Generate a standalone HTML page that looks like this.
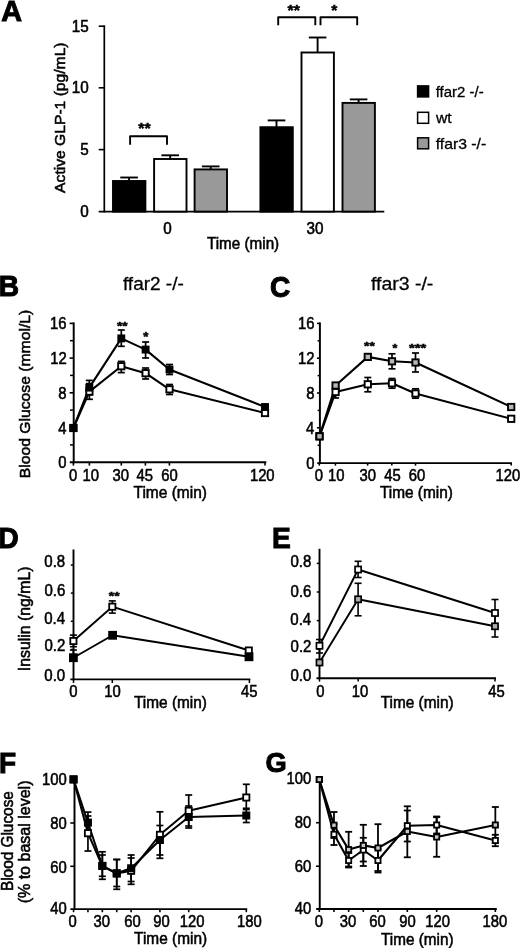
<!DOCTYPE html>
<html><head><meta charset="utf-8"><title>Figure</title>
<style>
html,body{margin:0;padding:0;background:#fff;}
body{width:520px;height:948px;overflow:hidden;}
svg{display:block;}
svg text{font-family:"Liberation Sans",Arial,Helvetica,sans-serif;}
</style></head><body>
<svg width="520" height="948" viewBox="0 0 520 948">
<rect x="0" y="0" width="520" height="948" fill="#fff"/>
<text transform="translate(1.28,21.10) scale(0.9696,1)" font-size="29.71" font-weight="bold" fill="#000" stroke="#000" stroke-width="1.0">A</text>
<line x1="104.30" y1="25.30" x2="104.30" y2="212.40" stroke="#000" stroke-width="1.7" stroke-linecap="butt"/>
<line x1="98.70" y1="211.60" x2="384.30" y2="211.60" stroke="#000" stroke-width="1.7" stroke-linecap="butt"/>
<line x1="98.70" y1="26.20" x2="104.30" y2="26.20" stroke="#000" stroke-width="1.6" stroke-linecap="butt"/>
<line x1="98.70" y1="87.80" x2="104.30" y2="87.80" stroke="#000" stroke-width="1.6" stroke-linecap="butt"/>
<line x1="98.70" y1="149.60" x2="104.30" y2="149.60" stroke="#000" stroke-width="1.6" stroke-linecap="butt"/>
<text transform="translate(71.79,31.61) scale(0.9600,1)" font-size="15.90" fill="#000" stroke="#000" stroke-width="0.55">15</text>
<text transform="translate(71.79,93.49) scale(0.9600,1)" font-size="15.90" fill="#000" stroke="#000" stroke-width="0.55">10</text>
<text transform="translate(80.26,154.71) scale(0.9600,1)" font-size="15.90" fill="#000" stroke="#000" stroke-width="0.55">5</text>
<text transform="translate(80.26,217.39) scale(0.9600,1)" font-size="15.90" fill="#000" stroke="#000" stroke-width="0.55">0</text>
<text transform="translate(64.80,192.88) rotate(-90) scale(1.0171,1)" font-size="15.40" fill="#000" stroke="#000" stroke-width="0.55">Active GLP-1 (pg/mL)</text>
<line x1="129.10" y1="181.00" x2="129.10" y2="177.50" stroke="#000" stroke-width="1.9" stroke-linecap="butt"/>
<line x1="120.30" y1="177.50" x2="137.90" y2="177.50" stroke="#000" stroke-width="1.9" stroke-linecap="butt"/>
<rect x="113.00" y="181.00" width="32.40" height="30.60" fill="#000" stroke="#000" stroke-width="1.9"/>
<line x1="170.20" y1="159.00" x2="170.20" y2="155.30" stroke="#000" stroke-width="1.9" stroke-linecap="butt"/>
<line x1="161.40" y1="155.30" x2="179.00" y2="155.30" stroke="#000" stroke-width="1.9" stroke-linecap="butt"/>
<rect x="154.10" y="159.00" width="32.40" height="52.60" fill="#fff" stroke="#000" stroke-width="1.9"/>
<line x1="210.70" y1="169.40" x2="210.70" y2="166.40" stroke="#000" stroke-width="1.9" stroke-linecap="butt"/>
<line x1="201.90" y1="166.40" x2="219.50" y2="166.40" stroke="#000" stroke-width="1.9" stroke-linecap="butt"/>
<rect x="194.60" y="169.40" width="32.40" height="42.20" fill="#999" stroke="#000" stroke-width="1.9"/>
<line x1="276.50" y1="127.20" x2="276.50" y2="120.40" stroke="#000" stroke-width="1.9" stroke-linecap="butt"/>
<line x1="267.70" y1="120.40" x2="285.30" y2="120.40" stroke="#000" stroke-width="1.9" stroke-linecap="butt"/>
<rect x="260.40" y="127.20" width="32.40" height="84.40" fill="#000" stroke="#000" stroke-width="1.9"/>
<line x1="317.60" y1="52.50" x2="317.60" y2="37.50" stroke="#000" stroke-width="1.9" stroke-linecap="butt"/>
<line x1="308.80" y1="37.50" x2="326.40" y2="37.50" stroke="#000" stroke-width="1.9" stroke-linecap="butt"/>
<rect x="301.50" y="52.50" width="32.40" height="159.10" fill="#fff" stroke="#000" stroke-width="1.9"/>
<line x1="358.60" y1="102.90" x2="358.60" y2="99.40" stroke="#000" stroke-width="1.9" stroke-linecap="butt"/>
<line x1="349.80" y1="99.40" x2="367.40" y2="99.40" stroke="#000" stroke-width="1.9" stroke-linecap="butt"/>
<rect x="342.50" y="102.90" width="32.40" height="108.70" fill="#999" stroke="#000" stroke-width="1.9"/>
<polyline fill="none" stroke="#000" stroke-width="1.9" stroke-linejoin="round" points="130.10,144.80 130.10,136.20 167.00,136.20 167.00,144.80"/>
<polyline fill="none" stroke="#000" stroke-width="1.9" stroke-linejoin="round" points="278.20,25.20 278.20,17.30 315.30,17.30 315.30,25.20"/>
<polyline fill="none" stroke="#000" stroke-width="1.9" stroke-linejoin="round" points="320.50,25.20 320.50,17.30 357.20,17.30 357.20,25.20"/>
<text transform="translate(138.17,133.08) scale(1.0369,1)" font-size="15.41" font-weight="bold" fill="#000" stroke="#000" stroke-width="0.5">**</text>
<text transform="translate(287.47,15.08) scale(1.0369,1)" font-size="15.41" font-weight="bold" fill="#000" stroke="#000" stroke-width="0.5">**</text>
<text transform="translate(331.27,15.08) scale(1.0078,1)" font-size="15.41" font-weight="bold" fill="#000" stroke="#000" stroke-width="0.5">*</text>
<text transform="translate(163.26,233.59) scale(0.9600,1)" font-size="15.90" fill="#000" stroke="#000" stroke-width="0.55">0</text>
<text transform="translate(306.48,233.59) scale(0.9600,1)" font-size="15.90" fill="#000" stroke="#000" stroke-width="0.55">30</text>
<text transform="translate(207.00,249.40) scale(0.9402,1)" font-size="16.20" fill="#000" stroke="#000" stroke-width="0.55">Time (min)</text>
<rect x="417.60" y="85.90" width="11.00" height="11.00" fill="#000" stroke="#000" stroke-width="1.5"/>
<rect x="417.60" y="112.30" width="11.00" height="11.00" fill="#fff" stroke="#000" stroke-width="1.5"/>
<rect x="417.60" y="137.80" width="11.00" height="11.00" fill="#999" stroke="#000" stroke-width="1.5"/>
<text transform="translate(435.68,97.20) scale(1.0119,1)" font-size="14.80" fill="#000" stroke="#000" stroke-width="0.3">ffar2 -/-</text>
<text transform="translate(435.90,123.20) scale(1.0647,1)" font-size="14.80" fill="#000" stroke="#000" stroke-width="0.3">wt</text>
<text transform="translate(435.66,149.00) scale(1.0656,1)" font-size="14.80" fill="#000" stroke="#000" stroke-width="0.3">ffar3 -/-</text>
<text transform="translate(-1.23,295.60) scale(0.9584,1)" font-size="29.42" font-weight="bold" fill="#000" stroke="#000" stroke-width="1.0">B</text>
<text transform="translate(122.91,289.60) scale(1.0223,1)" font-size="18.60" fill="#000" stroke="#000" stroke-width="0.3">ffar2 -/-</text>
<line x1="73.70" y1="322.40" x2="73.70" y2="463.20" stroke="#000" stroke-width="1.95" stroke-linecap="butt"/>
<line x1="69.80" y1="462.30" x2="266.30" y2="462.30" stroke="#000" stroke-width="1.95" stroke-linecap="butt"/>
<line x1="69.60" y1="323.40" x2="73.70" y2="323.40" stroke="#000" stroke-width="1.6" stroke-linecap="butt"/>
<line x1="69.60" y1="358.10" x2="73.70" y2="358.10" stroke="#000" stroke-width="1.6" stroke-linecap="butt"/>
<line x1="69.60" y1="392.80" x2="73.70" y2="392.80" stroke="#000" stroke-width="1.6" stroke-linecap="butt"/>
<line x1="69.60" y1="427.50" x2="73.70" y2="427.50" stroke="#000" stroke-width="1.6" stroke-linecap="butt"/>
<line x1="70.00" y1="340.70" x2="73.70" y2="340.70" stroke="#000" stroke-width="1.5" stroke-linecap="butt"/>
<line x1="70.00" y1="375.40" x2="73.70" y2="375.40" stroke="#000" stroke-width="1.5" stroke-linecap="butt"/>
<line x1="70.00" y1="410.10" x2="73.70" y2="410.10" stroke="#000" stroke-width="1.5" stroke-linecap="butt"/>
<line x1="70.00" y1="444.90" x2="73.70" y2="444.90" stroke="#000" stroke-width="1.5" stroke-linecap="butt"/>
<line x1="73.40" y1="462.30" x2="73.40" y2="465.60" stroke="#000" stroke-width="1.6" stroke-linecap="butt"/>
<line x1="89.40" y1="462.30" x2="89.40" y2="465.60" stroke="#000" stroke-width="1.6" stroke-linecap="butt"/>
<line x1="121.30" y1="462.30" x2="121.30" y2="465.60" stroke="#000" stroke-width="1.6" stroke-linecap="butt"/>
<line x1="145.40" y1="462.30" x2="145.40" y2="465.60" stroke="#000" stroke-width="1.6" stroke-linecap="butt"/>
<line x1="169.40" y1="462.30" x2="169.40" y2="465.60" stroke="#000" stroke-width="1.6" stroke-linecap="butt"/>
<line x1="265.00" y1="462.30" x2="265.00" y2="465.60" stroke="#000" stroke-width="1.6" stroke-linecap="butt"/>
<text transform="translate(50.12,328.86) scale(0.9050,1)" font-size="16.40" fill="#000" stroke="#000" stroke-width="0.55">16</text>
<text transform="translate(50.19,364.04) scale(0.9050,1)" font-size="16.40" fill="#000" stroke="#000" stroke-width="0.55">12</text>
<text transform="translate(58.28,398.86) scale(0.9050,1)" font-size="16.40" fill="#000" stroke="#000" stroke-width="0.55">8</text>
<text transform="translate(58.13,433.66) scale(0.9050,1)" font-size="16.40" fill="#000" stroke="#000" stroke-width="0.55">4</text>
<text transform="translate(58.28,468.36) scale(0.9050,1)" font-size="16.40" fill="#000" stroke="#000" stroke-width="0.55">0</text>
<text transform="translate(69.08,481.26) scale(0.9050,1)" font-size="16.40" fill="#000" stroke="#000" stroke-width="0.55">0</text>
<text transform="translate(82.50,481.26) scale(0.9050,1)" font-size="16.40" fill="#000" stroke="#000" stroke-width="0.55">10</text>
<text transform="translate(112.61,481.26) scale(0.9050,1)" font-size="16.40" fill="#000" stroke="#000" stroke-width="0.55">30</text>
<text transform="translate(136.47,481.18) scale(0.9050,1)" font-size="16.40" fill="#000" stroke="#000" stroke-width="0.55">45</text>
<text transform="translate(161.29,481.26) scale(0.9050,1)" font-size="16.40" fill="#000" stroke="#000" stroke-width="0.55">60</text>
<text transform="translate(249.88,481.26) scale(0.9050,1)" font-size="16.40" fill="#000" stroke="#000" stroke-width="0.55">120</text>
<text transform="translate(133.49,497.50) scale(0.9343,1)" font-size="16.60" fill="#000" stroke="#000" stroke-width="0.55">Time (min)</text>
<text transform="translate(29.80,478.26) rotate(-90) scale(1.0214,1)" font-size="15.40" fill="#000" stroke="#000" stroke-width="0.55">Blood Glucose (mmol/L)</text>
<line x1="89.40" y1="383.60" x2="89.40" y2="399.30" stroke="#000" stroke-width="1.7" stroke-linecap="butt"/>
<line x1="85.90" y1="383.60" x2="92.90" y2="383.60" stroke="#000" stroke-width="1.7" stroke-linecap="butt"/>
<line x1="85.90" y1="399.30" x2="92.90" y2="399.30" stroke="#000" stroke-width="1.7" stroke-linecap="butt"/>
<line x1="121.30" y1="361.40" x2="121.30" y2="372.60" stroke="#000" stroke-width="1.7" stroke-linecap="butt"/>
<line x1="117.80" y1="361.40" x2="124.80" y2="361.40" stroke="#000" stroke-width="1.7" stroke-linecap="butt"/>
<line x1="117.80" y1="372.60" x2="124.80" y2="372.60" stroke="#000" stroke-width="1.7" stroke-linecap="butt"/>
<line x1="145.60" y1="368.00" x2="145.60" y2="379.00" stroke="#000" stroke-width="1.7" stroke-linecap="butt"/>
<line x1="142.10" y1="368.00" x2="149.10" y2="368.00" stroke="#000" stroke-width="1.7" stroke-linecap="butt"/>
<line x1="142.10" y1="379.00" x2="149.10" y2="379.00" stroke="#000" stroke-width="1.7" stroke-linecap="butt"/>
<line x1="169.50" y1="384.50" x2="169.50" y2="394.50" stroke="#000" stroke-width="1.7" stroke-linecap="butt"/>
<line x1="166.00" y1="384.50" x2="173.00" y2="384.50" stroke="#000" stroke-width="1.7" stroke-linecap="butt"/>
<line x1="166.00" y1="394.50" x2="173.00" y2="394.50" stroke="#000" stroke-width="1.7" stroke-linecap="butt"/>
<line x1="89.30" y1="380.40" x2="89.30" y2="394.70" stroke="#000" stroke-width="1.7" stroke-linecap="butt"/>
<line x1="85.80" y1="380.40" x2="92.80" y2="380.40" stroke="#000" stroke-width="1.7" stroke-linecap="butt"/>
<line x1="85.80" y1="394.70" x2="92.80" y2="394.70" stroke="#000" stroke-width="1.7" stroke-linecap="butt"/>
<line x1="121.30" y1="330.00" x2="121.30" y2="346.30" stroke="#000" stroke-width="1.7" stroke-linecap="butt"/>
<line x1="117.80" y1="330.00" x2="124.80" y2="330.00" stroke="#000" stroke-width="1.7" stroke-linecap="butt"/>
<line x1="117.80" y1="346.30" x2="124.80" y2="346.30" stroke="#000" stroke-width="1.7" stroke-linecap="butt"/>
<line x1="145.60" y1="342.00" x2="145.60" y2="358.00" stroke="#000" stroke-width="1.7" stroke-linecap="butt"/>
<line x1="142.10" y1="342.00" x2="149.10" y2="342.00" stroke="#000" stroke-width="1.7" stroke-linecap="butt"/>
<line x1="142.10" y1="358.00" x2="149.10" y2="358.00" stroke="#000" stroke-width="1.7" stroke-linecap="butt"/>
<line x1="169.50" y1="364.50" x2="169.50" y2="374.50" stroke="#000" stroke-width="1.7" stroke-linecap="butt"/>
<line x1="166.00" y1="364.50" x2="173.00" y2="364.50" stroke="#000" stroke-width="1.7" stroke-linecap="butt"/>
<line x1="166.00" y1="374.50" x2="173.00" y2="374.50" stroke="#000" stroke-width="1.7" stroke-linecap="butt"/>
<polyline fill="none" stroke="#000" stroke-width="2.1" stroke-linejoin="round" points="73.40,428.00 89.40,391.60 121.30,366.20 145.60,373.20 169.50,389.30 265.00,413.00"/>
<polyline fill="none" stroke="#000" stroke-width="2.1" stroke-linejoin="round" points="73.40,428.00 89.30,387.60 121.30,338.40 145.60,349.60 169.50,369.50 265.00,407.00"/>
<rect x="70.25" y="424.85" width="6.30" height="6.30" fill="#fff" stroke="#000" stroke-width="1.9"/>
<rect x="86.25" y="388.45" width="6.30" height="6.30" fill="#fff" stroke="#000" stroke-width="1.9"/>
<rect x="118.15" y="363.05" width="6.30" height="6.30" fill="#fff" stroke="#000" stroke-width="1.9"/>
<rect x="142.45" y="370.05" width="6.30" height="6.30" fill="#fff" stroke="#000" stroke-width="1.9"/>
<rect x="166.35" y="386.15" width="6.30" height="6.30" fill="#fff" stroke="#000" stroke-width="1.9"/>
<rect x="261.85" y="409.85" width="6.30" height="6.30" fill="#fff" stroke="#000" stroke-width="1.9"/>
<rect x="69.45" y="424.05" width="7.90" height="7.90" fill="#000"/>
<rect x="85.35" y="383.65" width="7.90" height="7.90" fill="#000"/>
<rect x="117.35" y="334.45" width="7.90" height="7.90" fill="#000"/>
<rect x="141.65" y="345.65" width="7.90" height="7.90" fill="#000"/>
<rect x="165.55" y="365.55" width="7.90" height="7.90" fill="#000"/>
<rect x="261.05" y="403.05" width="7.90" height="7.90" fill="#000"/>
<text transform="translate(117.03,329.97) scale(1.1734,1)" font-size="11.62" font-weight="bold" fill="#000" stroke="#000" stroke-width="0.5">**</text>
<text transform="translate(143.28,340.71) scale(1.1065,1)" font-size="11.89" font-weight="bold" fill="#000" stroke="#000" stroke-width="0.5">*</text>
<text transform="translate(270.08,296.80) scale(0.9234,1)" font-size="30.42" font-weight="bold" fill="#000" stroke="#000" stroke-width="1.0">C</text>
<text transform="translate(370.91,289.60) scale(1.0479,1)" font-size="18.60" fill="#000" stroke="#000" stroke-width="0.3">ffar3 -/-</text>
<line x1="319.90" y1="322.40" x2="319.90" y2="464.00" stroke="#000" stroke-width="1.95" stroke-linecap="butt"/>
<line x1="317.20" y1="463.10" x2="512.00" y2="463.10" stroke="#000" stroke-width="1.95" stroke-linecap="butt"/>
<line x1="317.00" y1="323.40" x2="319.90" y2="323.40" stroke="#000" stroke-width="1.6" stroke-linecap="butt"/>
<line x1="317.00" y1="358.20" x2="319.90" y2="358.20" stroke="#000" stroke-width="1.6" stroke-linecap="butt"/>
<line x1="317.00" y1="393.00" x2="319.90" y2="393.00" stroke="#000" stroke-width="1.6" stroke-linecap="butt"/>
<line x1="317.00" y1="427.80" x2="319.90" y2="427.80" stroke="#000" stroke-width="1.6" stroke-linecap="butt"/>
<line x1="317.60" y1="340.80" x2="319.90" y2="340.80" stroke="#000" stroke-width="1.5" stroke-linecap="butt"/>
<line x1="317.60" y1="375.60" x2="319.90" y2="375.60" stroke="#000" stroke-width="1.5" stroke-linecap="butt"/>
<line x1="317.60" y1="410.40" x2="319.90" y2="410.40" stroke="#000" stroke-width="1.5" stroke-linecap="butt"/>
<line x1="317.60" y1="445.30" x2="319.90" y2="445.30" stroke="#000" stroke-width="1.5" stroke-linecap="butt"/>
<line x1="319.30" y1="463.10" x2="319.30" y2="465.60" stroke="#000" stroke-width="1.6" stroke-linecap="butt"/>
<line x1="335.40" y1="463.10" x2="335.40" y2="465.60" stroke="#000" stroke-width="1.6" stroke-linecap="butt"/>
<line x1="367.60" y1="463.10" x2="367.60" y2="465.60" stroke="#000" stroke-width="1.6" stroke-linecap="butt"/>
<line x1="391.80" y1="463.10" x2="391.80" y2="465.60" stroke="#000" stroke-width="1.6" stroke-linecap="butt"/>
<line x1="415.50" y1="463.10" x2="415.50" y2="465.60" stroke="#000" stroke-width="1.6" stroke-linecap="butt"/>
<line x1="511.20" y1="463.10" x2="511.20" y2="465.60" stroke="#000" stroke-width="1.6" stroke-linecap="butt"/>
<text transform="translate(298.02,328.86) scale(0.9050,1)" font-size="16.40" fill="#000" stroke="#000" stroke-width="0.55">16</text>
<text transform="translate(298.09,364.04) scale(0.9050,1)" font-size="16.40" fill="#000" stroke="#000" stroke-width="0.55">12</text>
<text transform="translate(306.18,398.96) scale(0.9050,1)" font-size="16.40" fill="#000" stroke="#000" stroke-width="0.55">8</text>
<text transform="translate(306.03,434.26) scale(0.9050,1)" font-size="16.40" fill="#000" stroke="#000" stroke-width="0.55">4</text>
<text transform="translate(306.18,468.96) scale(0.9050,1)" font-size="16.40" fill="#000" stroke="#000" stroke-width="0.55">0</text>
<text transform="translate(314.73,480.96) scale(0.9050,1)" font-size="16.40" fill="#000" stroke="#000" stroke-width="0.55">0</text>
<text transform="translate(327.90,480.96) scale(0.9050,1)" font-size="16.40" fill="#000" stroke="#000" stroke-width="0.55">10</text>
<text transform="translate(359.56,480.96) scale(0.9050,1)" font-size="16.40" fill="#000" stroke="#000" stroke-width="0.55">30</text>
<text transform="translate(384.37,480.88) scale(0.9050,1)" font-size="16.40" fill="#000" stroke="#000" stroke-width="0.55">45</text>
<text transform="translate(408.79,480.96) scale(0.9050,1)" font-size="16.40" fill="#000" stroke="#000" stroke-width="0.55">60</text>
<text transform="translate(495.58,480.96) scale(0.9050,1)" font-size="16.40" fill="#000" stroke="#000" stroke-width="0.55">120</text>
<text transform="translate(379.89,497.50) scale(0.9292,1)" font-size="16.60" fill="#000" stroke="#000" stroke-width="0.55">Time (min)</text>
<line x1="335.60" y1="386.50" x2="335.60" y2="398.00" stroke="#000" stroke-width="1.7" stroke-linecap="butt"/>
<line x1="332.10" y1="386.50" x2="339.10" y2="386.50" stroke="#000" stroke-width="1.7" stroke-linecap="butt"/>
<line x1="332.10" y1="398.00" x2="339.10" y2="398.00" stroke="#000" stroke-width="1.7" stroke-linecap="butt"/>
<line x1="367.80" y1="377.50" x2="367.80" y2="391.80" stroke="#000" stroke-width="1.7" stroke-linecap="butt"/>
<line x1="364.30" y1="377.50" x2="371.30" y2="377.50" stroke="#000" stroke-width="1.7" stroke-linecap="butt"/>
<line x1="364.30" y1="391.80" x2="371.30" y2="391.80" stroke="#000" stroke-width="1.7" stroke-linecap="butt"/>
<line x1="392.00" y1="378.50" x2="392.00" y2="388.20" stroke="#000" stroke-width="1.7" stroke-linecap="butt"/>
<line x1="388.50" y1="378.50" x2="395.50" y2="378.50" stroke="#000" stroke-width="1.7" stroke-linecap="butt"/>
<line x1="388.50" y1="388.20" x2="395.50" y2="388.20" stroke="#000" stroke-width="1.7" stroke-linecap="butt"/>
<line x1="415.50" y1="388.80" x2="415.50" y2="398.20" stroke="#000" stroke-width="1.7" stroke-linecap="butt"/>
<line x1="412.00" y1="388.80" x2="419.00" y2="388.80" stroke="#000" stroke-width="1.7" stroke-linecap="butt"/>
<line x1="412.00" y1="398.20" x2="419.00" y2="398.20" stroke="#000" stroke-width="1.7" stroke-linecap="butt"/>
<line x1="392.00" y1="353.80" x2="392.00" y2="368.80" stroke="#000" stroke-width="1.7" stroke-linecap="butt"/>
<line x1="388.50" y1="353.80" x2="395.50" y2="353.80" stroke="#000" stroke-width="1.7" stroke-linecap="butt"/>
<line x1="388.50" y1="368.80" x2="395.50" y2="368.80" stroke="#000" stroke-width="1.7" stroke-linecap="butt"/>
<line x1="415.50" y1="353.00" x2="415.50" y2="372.00" stroke="#000" stroke-width="1.7" stroke-linecap="butt"/>
<line x1="412.00" y1="353.00" x2="419.00" y2="353.00" stroke="#000" stroke-width="1.7" stroke-linecap="butt"/>
<line x1="412.00" y1="372.00" x2="419.00" y2="372.00" stroke="#000" stroke-width="1.7" stroke-linecap="butt"/>
<polyline fill="none" stroke="#000" stroke-width="2.1" stroke-linejoin="round" points="319.50,436.30 335.60,392.00 367.80,384.30 392.00,383.30 415.50,393.50 511.20,418.80"/>
<polyline fill="none" stroke="#000" stroke-width="2.1" stroke-linejoin="round" points="319.50,436.30 335.60,385.50 367.80,356.90 392.00,361.30 415.50,362.50 511.20,407.00"/>
<rect x="316.35" y="433.15" width="6.30" height="6.30" fill="#fff" stroke="#000" stroke-width="1.9"/>
<rect x="332.45" y="388.85" width="6.30" height="6.30" fill="#fff" stroke="#000" stroke-width="1.9"/>
<rect x="364.65" y="381.15" width="6.30" height="6.30" fill="#fff" stroke="#000" stroke-width="1.9"/>
<rect x="388.85" y="380.15" width="6.30" height="6.30" fill="#fff" stroke="#000" stroke-width="1.9"/>
<rect x="412.35" y="390.35" width="6.30" height="6.30" fill="#fff" stroke="#000" stroke-width="1.9"/>
<rect x="508.05" y="415.65" width="6.30" height="6.30" fill="#fff" stroke="#000" stroke-width="1.9"/>
<rect x="316.35" y="433.15" width="6.30" height="6.30" fill="#b8b8b8" stroke="#000" stroke-width="1.9"/>
<rect x="332.45" y="382.35" width="6.30" height="6.30" fill="#b8b8b8" stroke="#000" stroke-width="1.9"/>
<rect x="364.65" y="353.75" width="6.30" height="6.30" fill="#b8b8b8" stroke="#000" stroke-width="1.9"/>
<rect x="388.85" y="358.15" width="6.30" height="6.30" fill="#b8b8b8" stroke="#000" stroke-width="1.9"/>
<rect x="412.35" y="359.35" width="6.30" height="6.30" fill="#b8b8b8" stroke="#000" stroke-width="1.9"/>
<rect x="508.05" y="403.85" width="6.30" height="6.30" fill="#b8b8b8" stroke="#000" stroke-width="1.9"/>
<text transform="translate(364.03,349.93) scale(1.2127,1)" font-size="11.35" font-weight="bold" fill="#000" stroke="#000" stroke-width="0.5">**</text>
<text transform="translate(392.49,351.53) scale(1.0896,1)" font-size="11.35" font-weight="bold" fill="#000" stroke="#000" stroke-width="0.5">*</text>
<text transform="translate(409.03,351.93) scale(1.3062,1)" font-size="11.35" font-weight="bold" fill="#000" stroke="#000" stroke-width="0.5">***</text>
<text transform="translate(-1.84,547.70) scale(0.9477,1)" font-size="29.86" font-weight="bold" fill="#000" stroke="#000" stroke-width="1.0">D</text>
<line x1="73.50" y1="549.50" x2="73.50" y2="680.30" stroke="#000" stroke-width="1.9" stroke-linecap="butt"/>
<line x1="70.30" y1="679.40" x2="250.30" y2="679.40" stroke="#000" stroke-width="1.9" stroke-linecap="butt"/>
<line x1="70.80" y1="565.00" x2="73.50" y2="565.00" stroke="#000" stroke-width="1.5" stroke-linecap="butt"/>
<line x1="70.80" y1="593.10" x2="73.50" y2="593.10" stroke="#000" stroke-width="1.5" stroke-linecap="butt"/>
<line x1="70.80" y1="621.30" x2="73.50" y2="621.30" stroke="#000" stroke-width="1.5" stroke-linecap="butt"/>
<line x1="70.80" y1="649.50" x2="73.50" y2="649.50" stroke="#000" stroke-width="1.5" stroke-linecap="butt"/>
<line x1="73.50" y1="679.40" x2="73.50" y2="683.00" stroke="#000" stroke-width="1.5" stroke-linecap="butt"/>
<line x1="112.30" y1="679.40" x2="112.30" y2="683.00" stroke="#000" stroke-width="1.5" stroke-linecap="butt"/>
<line x1="249.40" y1="679.40" x2="249.40" y2="683.00" stroke="#000" stroke-width="1.5" stroke-linecap="butt"/>
<text transform="translate(44.37,567.46) scale(0.9150,1)" font-size="16.40" fill="#000" stroke="#000" stroke-width="0.55">0.8</text>
<text transform="translate(44.44,595.96) scale(0.9150,1)" font-size="16.40" fill="#000" stroke="#000" stroke-width="0.55">0.6</text>
<text transform="translate(44.22,624.36) scale(0.9150,1)" font-size="16.40" fill="#000" stroke="#000" stroke-width="0.55">0.4</text>
<text transform="translate(44.52,651.26) scale(0.9150,1)" font-size="16.40" fill="#000" stroke="#000" stroke-width="0.55">0.2</text>
<text transform="translate(44.37,681.16) scale(0.9150,1)" font-size="16.40" fill="#000" stroke="#000" stroke-width="0.55">0.0</text>
<text transform="translate(69.28,697.46) scale(0.9050,1)" font-size="16.40" fill="#000" stroke="#000" stroke-width="0.55">0</text>
<text transform="translate(104.25,697.46) scale(0.9050,1)" font-size="16.40" fill="#000" stroke="#000" stroke-width="0.55">10</text>
<text transform="translate(241.12,697.38) scale(0.9050,1)" font-size="16.40" fill="#000" stroke="#000" stroke-width="0.55">45</text>
<text transform="translate(133.99,708.40) scale(0.9279,1)" font-size="16.60" fill="#000" stroke="#000" stroke-width="0.55">Time (min)</text>
<text transform="translate(30.00,671.23) rotate(-90) scale(0.9960,1)" font-size="15.90" fill="#000" stroke="#000" stroke-width="0.55">Insulin (ng/mL)</text>
<line x1="73.40" y1="635.10" x2="73.40" y2="646.70" stroke="#000" stroke-width="1.6" stroke-linecap="butt"/>
<line x1="69.90" y1="635.10" x2="76.90" y2="635.10" stroke="#000" stroke-width="1.6" stroke-linecap="butt"/>
<line x1="69.90" y1="646.70" x2="76.90" y2="646.70" stroke="#000" stroke-width="1.6" stroke-linecap="butt"/>
<line x1="112.30" y1="600.90" x2="112.30" y2="613.10" stroke="#000" stroke-width="1.6" stroke-linecap="butt"/>
<line x1="108.80" y1="600.90" x2="115.80" y2="600.90" stroke="#000" stroke-width="1.6" stroke-linecap="butt"/>
<line x1="108.80" y1="613.10" x2="115.80" y2="613.10" stroke="#000" stroke-width="1.6" stroke-linecap="butt"/>
<line x1="73.40" y1="650.00" x2="73.40" y2="658.00" stroke="#000" stroke-width="1.6" stroke-linecap="butt"/>
<line x1="69.90" y1="650.00" x2="76.90" y2="650.00" stroke="#000" stroke-width="1.6" stroke-linecap="butt"/>
<line x1="69.90" y1="658.00" x2="76.90" y2="658.00" stroke="#000" stroke-width="1.6" stroke-linecap="butt"/>
<polyline fill="none" stroke="#000" stroke-width="1.9" stroke-linejoin="round" points="73.40,641.00 112.30,606.70 248.80,650.50"/>
<polyline fill="none" stroke="#000" stroke-width="1.9" stroke-linejoin="round" points="73.40,657.70 112.60,635.30 249.00,656.80"/>
<rect x="70.30" y="637.90" width="6.20" height="6.20" fill="#fff" stroke="#000" stroke-width="1.8"/>
<rect x="109.20" y="603.60" width="6.20" height="6.20" fill="#fff" stroke="#000" stroke-width="1.8"/>
<rect x="245.70" y="647.40" width="6.20" height="6.20" fill="#fff" stroke="#000" stroke-width="1.8"/>
<rect x="69.00" y="653.30" width="8.80" height="8.80" fill="#000"/>
<rect x="108.20" y="630.90" width="8.80" height="8.80" fill="#000"/>
<rect x="244.60" y="652.40" width="8.80" height="8.80" fill="#000"/>
<text transform="translate(108.78,600.48) scale(1.2242,1)" font-size="11.35" font-weight="bold" fill="#000" stroke="#000" stroke-width="0.5">**</text>
<text transform="translate(271.97,547.60) scale(0.9381,1)" font-size="30.00" font-weight="bold" fill="#000" stroke="#000" stroke-width="1.0">E</text>
<line x1="319.50" y1="548.80" x2="319.50" y2="679.10" stroke="#000" stroke-width="1.9" stroke-linecap="butt"/>
<line x1="316.50" y1="678.20" x2="496.00" y2="678.20" stroke="#000" stroke-width="1.9" stroke-linecap="butt"/>
<line x1="316.80" y1="563.40" x2="319.50" y2="563.40" stroke="#000" stroke-width="1.5" stroke-linecap="butt"/>
<line x1="316.80" y1="592.00" x2="319.50" y2="592.00" stroke="#000" stroke-width="1.5" stroke-linecap="butt"/>
<line x1="316.80" y1="620.60" x2="319.50" y2="620.60" stroke="#000" stroke-width="1.5" stroke-linecap="butt"/>
<line x1="316.80" y1="649.20" x2="319.50" y2="649.20" stroke="#000" stroke-width="1.5" stroke-linecap="butt"/>
<line x1="319.50" y1="678.20" x2="319.50" y2="681.60" stroke="#000" stroke-width="1.5" stroke-linecap="butt"/>
<line x1="358.20" y1="678.20" x2="358.20" y2="681.60" stroke="#000" stroke-width="1.5" stroke-linecap="butt"/>
<line x1="495.00" y1="678.20" x2="495.00" y2="681.60" stroke="#000" stroke-width="1.5" stroke-linecap="butt"/>
<text transform="translate(290.47,567.46) scale(0.9150,1)" font-size="16.40" fill="#000" stroke="#000" stroke-width="0.55">0.8</text>
<text transform="translate(290.54,596.56) scale(0.9150,1)" font-size="16.40" fill="#000" stroke="#000" stroke-width="0.55">0.6</text>
<text transform="translate(290.32,624.86) scale(0.9150,1)" font-size="16.40" fill="#000" stroke="#000" stroke-width="0.55">0.4</text>
<text transform="translate(290.62,651.66) scale(0.9150,1)" font-size="16.40" fill="#000" stroke="#000" stroke-width="0.55">0.2</text>
<text transform="translate(290.47,681.16) scale(0.9150,1)" font-size="16.40" fill="#000" stroke="#000" stroke-width="0.55">0.0</text>
<text transform="translate(316.18,697.46) scale(0.9050,1)" font-size="16.40" fill="#000" stroke="#000" stroke-width="0.55">0</text>
<text transform="translate(351.70,697.46) scale(0.9050,1)" font-size="16.40" fill="#000" stroke="#000" stroke-width="0.55">10</text>
<text transform="translate(488.37,697.38) scale(0.9050,1)" font-size="16.40" fill="#000" stroke="#000" stroke-width="0.55">45</text>
<text transform="translate(380.69,708.40) scale(0.9279,1)" font-size="16.60" fill="#000" stroke="#000" stroke-width="0.55">Time (min)</text>
<line x1="319.50" y1="639.50" x2="319.50" y2="653.00" stroke="#000" stroke-width="1.6" stroke-linecap="butt"/>
<line x1="316.00" y1="639.50" x2="323.00" y2="639.50" stroke="#000" stroke-width="1.6" stroke-linecap="butt"/>
<line x1="316.00" y1="653.00" x2="323.00" y2="653.00" stroke="#000" stroke-width="1.6" stroke-linecap="butt"/>
<line x1="358.10" y1="561.30" x2="358.10" y2="577.50" stroke="#000" stroke-width="1.6" stroke-linecap="butt"/>
<line x1="354.60" y1="561.30" x2="361.60" y2="561.30" stroke="#000" stroke-width="1.6" stroke-linecap="butt"/>
<line x1="354.60" y1="577.50" x2="361.60" y2="577.50" stroke="#000" stroke-width="1.6" stroke-linecap="butt"/>
<line x1="495.00" y1="599.50" x2="495.00" y2="626.00" stroke="#000" stroke-width="1.6" stroke-linecap="butt"/>
<line x1="491.50" y1="599.50" x2="498.50" y2="599.50" stroke="#000" stroke-width="1.6" stroke-linecap="butt"/>
<line x1="491.50" y1="626.00" x2="498.50" y2="626.00" stroke="#000" stroke-width="1.6" stroke-linecap="butt"/>
<line x1="358.10" y1="583.30" x2="358.10" y2="615.80" stroke="#000" stroke-width="1.6" stroke-linecap="butt"/>
<line x1="354.60" y1="583.30" x2="361.60" y2="583.30" stroke="#000" stroke-width="1.6" stroke-linecap="butt"/>
<line x1="354.60" y1="615.80" x2="361.60" y2="615.80" stroke="#000" stroke-width="1.6" stroke-linecap="butt"/>
<line x1="495.00" y1="614.00" x2="495.00" y2="637.00" stroke="#000" stroke-width="1.6" stroke-linecap="butt"/>
<line x1="491.50" y1="614.00" x2="498.50" y2="614.00" stroke="#000" stroke-width="1.6" stroke-linecap="butt"/>
<line x1="491.50" y1="637.00" x2="498.50" y2="637.00" stroke="#000" stroke-width="1.6" stroke-linecap="butt"/>
<polyline fill="none" stroke="#000" stroke-width="1.9" stroke-linejoin="round" points="319.50,645.80 358.10,569.50 495.00,613.00"/>
<polyline fill="none" stroke="#000" stroke-width="1.9" stroke-linejoin="round" points="319.50,662.50 358.10,599.30 495.00,626.30"/>
<rect x="316.45" y="642.75" width="6.10" height="6.10" fill="#fff" stroke="#000" stroke-width="1.7"/>
<rect x="355.05" y="566.45" width="6.10" height="6.10" fill="#fff" stroke="#000" stroke-width="1.7"/>
<rect x="491.95" y="609.95" width="6.10" height="6.10" fill="#fff" stroke="#000" stroke-width="1.7"/>
<rect x="316.45" y="659.45" width="6.10" height="6.10" fill="#adadad" stroke="#000" stroke-width="1.7"/>
<rect x="355.05" y="596.25" width="6.10" height="6.10" fill="#adadad" stroke="#000" stroke-width="1.7"/>
<rect x="491.95" y="623.25" width="6.10" height="6.10" fill="#adadad" stroke="#000" stroke-width="1.7"/>
<text transform="translate(-1.02,773.00) scale(0.9484,1)" font-size="29.57" font-weight="bold" fill="#000" stroke="#000" stroke-width="1.0">F</text>
<line x1="74.50" y1="778.60" x2="74.50" y2="910.00" stroke="#000" stroke-width="1.95" stroke-linecap="butt"/>
<line x1="70.40" y1="909.10" x2="247.20" y2="909.10" stroke="#000" stroke-width="1.95" stroke-linecap="butt"/>
<line x1="70.30" y1="779.50" x2="74.50" y2="779.50" stroke="#000" stroke-width="1.6" stroke-linecap="butt"/>
<line x1="70.30" y1="823.00" x2="74.50" y2="823.00" stroke="#000" stroke-width="1.6" stroke-linecap="butt"/>
<line x1="70.30" y1="866.30" x2="74.50" y2="866.30" stroke="#000" stroke-width="1.6" stroke-linecap="butt"/>
<line x1="73.55" y1="909.10" x2="73.55" y2="912.20" stroke="#000" stroke-width="1.6" stroke-linecap="butt"/>
<line x1="87.95" y1="909.10" x2="87.95" y2="912.20" stroke="#000" stroke-width="1.6" stroke-linecap="butt"/>
<line x1="102.34" y1="909.10" x2="102.34" y2="912.20" stroke="#000" stroke-width="1.6" stroke-linecap="butt"/>
<line x1="116.74" y1="909.10" x2="116.74" y2="912.20" stroke="#000" stroke-width="1.6" stroke-linecap="butt"/>
<line x1="131.13" y1="909.10" x2="131.13" y2="912.20" stroke="#000" stroke-width="1.6" stroke-linecap="butt"/>
<line x1="159.92" y1="909.10" x2="159.92" y2="912.20" stroke="#000" stroke-width="1.6" stroke-linecap="butt"/>
<line x1="188.71" y1="909.10" x2="188.71" y2="912.20" stroke="#000" stroke-width="1.6" stroke-linecap="butt"/>
<line x1="246.30" y1="909.10" x2="246.30" y2="912.20" stroke="#000" stroke-width="1.6" stroke-linecap="butt"/>
<text transform="translate(41.91,784.96) scale(0.9050,1)" font-size="16.40" fill="#000" stroke="#000" stroke-width="0.55">100</text>
<text transform="translate(50.14,828.96) scale(0.9050,1)" font-size="16.40" fill="#000" stroke="#000" stroke-width="0.55">80</text>
<text transform="translate(50.14,872.66) scale(0.9050,1)" font-size="16.40" fill="#000" stroke="#000" stroke-width="0.55">60</text>
<text transform="translate(50.14,914.16) scale(0.9050,1)" font-size="16.40" fill="#000" stroke="#000" stroke-width="0.55">40</text>
<text transform="translate(68.58,927.06) scale(0.9050,1)" font-size="16.40" fill="#000" stroke="#000" stroke-width="0.55">0</text>
<text transform="translate(93.46,927.06) scale(0.9050,1)" font-size="16.40" fill="#000" stroke="#000" stroke-width="0.55">30</text>
<text transform="translate(124.29,927.06) scale(0.9050,1)" font-size="16.40" fill="#000" stroke="#000" stroke-width="0.55">60</text>
<text transform="translate(153.33,927.06) scale(0.9050,1)" font-size="16.40" fill="#000" stroke="#000" stroke-width="0.55">90</text>
<text transform="translate(179.68,927.06) scale(0.9050,1)" font-size="16.40" fill="#000" stroke="#000" stroke-width="0.55">120</text>
<text transform="translate(236.98,927.06) scale(0.9050,1)" font-size="16.40" fill="#000" stroke="#000" stroke-width="0.55">180</text>
<text transform="translate(134.09,944.30) scale(0.9292,1)" font-size="16.60" fill="#000" stroke="#000" stroke-width="0.55">Time (min)</text>
<text transform="translate(12.60,891.03) rotate(-90) scale(0.9722,1)" font-size="15.80" fill="#000" stroke="#000" stroke-width="0.55">Blood Glucose</text>
<text transform="translate(30.00,903.36) rotate(-90) scale(1.0142,1)" font-size="15.80" fill="#000" stroke="#000" stroke-width="0.55">(% to basal level)</text>
<line x1="87.95" y1="816.00" x2="87.95" y2="851.00" stroke="#000" stroke-width="1.7" stroke-linecap="butt"/>
<line x1="84.45" y1="816.00" x2="91.45" y2="816.00" stroke="#000" stroke-width="1.7" stroke-linecap="butt"/>
<line x1="84.45" y1="851.00" x2="91.45" y2="851.00" stroke="#000" stroke-width="1.7" stroke-linecap="butt"/>
<line x1="102.34" y1="855.00" x2="102.34" y2="879.30" stroke="#000" stroke-width="1.7" stroke-linecap="butt"/>
<line x1="98.84" y1="855.00" x2="105.84" y2="855.00" stroke="#000" stroke-width="1.7" stroke-linecap="butt"/>
<line x1="98.84" y1="879.30" x2="105.84" y2="879.30" stroke="#000" stroke-width="1.7" stroke-linecap="butt"/>
<line x1="116.74" y1="859.50" x2="116.74" y2="886.50" stroke="#000" stroke-width="1.7" stroke-linecap="butt"/>
<line x1="113.24" y1="859.50" x2="120.24" y2="859.50" stroke="#000" stroke-width="1.7" stroke-linecap="butt"/>
<line x1="113.24" y1="886.50" x2="120.24" y2="886.50" stroke="#000" stroke-width="1.7" stroke-linecap="butt"/>
<line x1="131.13" y1="858.00" x2="131.13" y2="884.30" stroke="#000" stroke-width="1.7" stroke-linecap="butt"/>
<line x1="127.63" y1="858.00" x2="134.63" y2="858.00" stroke="#000" stroke-width="1.7" stroke-linecap="butt"/>
<line x1="127.63" y1="884.30" x2="134.63" y2="884.30" stroke="#000" stroke-width="1.7" stroke-linecap="butt"/>
<line x1="159.92" y1="811.80" x2="159.92" y2="858.30" stroke="#000" stroke-width="1.7" stroke-linecap="butt"/>
<line x1="156.42" y1="811.80" x2="163.42" y2="811.80" stroke="#000" stroke-width="1.7" stroke-linecap="butt"/>
<line x1="156.42" y1="858.30" x2="163.42" y2="858.30" stroke="#000" stroke-width="1.7" stroke-linecap="butt"/>
<line x1="188.71" y1="795.00" x2="188.71" y2="826.00" stroke="#000" stroke-width="1.7" stroke-linecap="butt"/>
<line x1="185.21" y1="795.00" x2="192.21" y2="795.00" stroke="#000" stroke-width="1.7" stroke-linecap="butt"/>
<line x1="185.21" y1="826.00" x2="192.21" y2="826.00" stroke="#000" stroke-width="1.7" stroke-linecap="butt"/>
<line x1="246.30" y1="784.30" x2="246.30" y2="809.50" stroke="#000" stroke-width="1.7" stroke-linecap="butt"/>
<line x1="242.80" y1="784.30" x2="249.80" y2="784.30" stroke="#000" stroke-width="1.7" stroke-linecap="butt"/>
<line x1="242.80" y1="809.50" x2="249.80" y2="809.50" stroke="#000" stroke-width="1.7" stroke-linecap="butt"/>
<line x1="87.95" y1="812.10" x2="87.95" y2="831.90" stroke="#000" stroke-width="1.7" stroke-linecap="butt"/>
<line x1="84.45" y1="812.10" x2="91.45" y2="812.10" stroke="#000" stroke-width="1.7" stroke-linecap="butt"/>
<line x1="84.45" y1="831.90" x2="91.45" y2="831.90" stroke="#000" stroke-width="1.7" stroke-linecap="butt"/>
<line x1="102.34" y1="851.80" x2="102.34" y2="876.30" stroke="#000" stroke-width="1.7" stroke-linecap="butt"/>
<line x1="98.84" y1="851.80" x2="105.84" y2="851.80" stroke="#000" stroke-width="1.7" stroke-linecap="butt"/>
<line x1="98.84" y1="876.30" x2="105.84" y2="876.30" stroke="#000" stroke-width="1.7" stroke-linecap="butt"/>
<line x1="116.74" y1="859.50" x2="116.74" y2="889.30" stroke="#000" stroke-width="1.7" stroke-linecap="butt"/>
<line x1="113.24" y1="859.50" x2="120.24" y2="859.50" stroke="#000" stroke-width="1.7" stroke-linecap="butt"/>
<line x1="113.24" y1="889.30" x2="120.24" y2="889.30" stroke="#000" stroke-width="1.7" stroke-linecap="butt"/>
<line x1="131.13" y1="855.00" x2="131.13" y2="881.50" stroke="#000" stroke-width="1.7" stroke-linecap="butt"/>
<line x1="127.63" y1="855.00" x2="134.63" y2="855.00" stroke="#000" stroke-width="1.7" stroke-linecap="butt"/>
<line x1="127.63" y1="881.50" x2="134.63" y2="881.50" stroke="#000" stroke-width="1.7" stroke-linecap="butt"/>
<line x1="159.92" y1="825.50" x2="159.92" y2="855.00" stroke="#000" stroke-width="1.7" stroke-linecap="butt"/>
<line x1="156.42" y1="825.50" x2="163.42" y2="825.50" stroke="#000" stroke-width="1.7" stroke-linecap="butt"/>
<line x1="156.42" y1="855.00" x2="163.42" y2="855.00" stroke="#000" stroke-width="1.7" stroke-linecap="butt"/>
<line x1="188.71" y1="806.00" x2="188.71" y2="828.00" stroke="#000" stroke-width="1.7" stroke-linecap="butt"/>
<line x1="185.21" y1="806.00" x2="192.21" y2="806.00" stroke="#000" stroke-width="1.7" stroke-linecap="butt"/>
<line x1="185.21" y1="828.00" x2="192.21" y2="828.00" stroke="#000" stroke-width="1.7" stroke-linecap="butt"/>
<line x1="246.30" y1="808.30" x2="246.30" y2="822.50" stroke="#000" stroke-width="1.7" stroke-linecap="butt"/>
<line x1="242.80" y1="808.30" x2="249.80" y2="808.30" stroke="#000" stroke-width="1.7" stroke-linecap="butt"/>
<line x1="242.80" y1="822.50" x2="249.80" y2="822.50" stroke="#000" stroke-width="1.7" stroke-linecap="butt"/>
<polyline fill="none" stroke="#000" stroke-width="2.0" stroke-linejoin="round" points="73.55,779.40 87.95,833.20 102.34,866.00 116.74,873.50 131.13,870.80 159.92,834.80 188.71,810.80 246.30,797.50"/>
<polyline fill="none" stroke="#000" stroke-width="2.0" stroke-linejoin="round" points="73.55,779.40 87.95,822.60 102.34,865.80 116.74,873.30 131.13,868.30 159.92,840.00 188.71,817.00 246.30,815.50"/>
<rect x="70.45" y="776.30" width="6.20" height="6.20" fill="#fff" stroke="#000" stroke-width="1.8"/>
<rect x="84.85" y="830.10" width="6.20" height="6.20" fill="#fff" stroke="#000" stroke-width="1.8"/>
<rect x="99.24" y="862.90" width="6.20" height="6.20" fill="#fff" stroke="#000" stroke-width="1.8"/>
<rect x="113.64" y="870.40" width="6.20" height="6.20" fill="#fff" stroke="#000" stroke-width="1.8"/>
<rect x="128.03" y="867.70" width="6.20" height="6.20" fill="#fff" stroke="#000" stroke-width="1.8"/>
<rect x="156.82" y="831.70" width="6.20" height="6.20" fill="#fff" stroke="#000" stroke-width="1.8"/>
<rect x="185.61" y="807.70" width="6.20" height="6.20" fill="#fff" stroke="#000" stroke-width="1.8"/>
<rect x="243.20" y="794.40" width="6.20" height="6.20" fill="#fff" stroke="#000" stroke-width="1.8"/>
<rect x="69.55" y="775.40" width="8.00" height="8.00" fill="#000"/>
<rect x="83.95" y="818.60" width="8.00" height="8.00" fill="#000"/>
<rect x="98.34" y="861.80" width="8.00" height="8.00" fill="#000"/>
<rect x="112.74" y="869.30" width="8.00" height="8.00" fill="#000"/>
<rect x="127.13" y="864.30" width="8.00" height="8.00" fill="#000"/>
<rect x="155.92" y="836.00" width="8.00" height="8.00" fill="#000"/>
<rect x="184.71" y="813.00" width="8.00" height="8.00" fill="#000"/>
<rect x="242.30" y="811.50" width="8.00" height="8.00" fill="#000"/>
<text transform="translate(265.41,772.32) scale(0.9581,1)" font-size="28.45" font-weight="bold" fill="#000" stroke="#000" stroke-width="1.0">G</text>
<line x1="319.75" y1="778.60" x2="319.75" y2="909.80" stroke="#000" stroke-width="1.95" stroke-linecap="butt"/>
<line x1="316.20" y1="908.90" x2="496.80" y2="908.90" stroke="#000" stroke-width="1.95" stroke-linecap="butt"/>
<line x1="316.00" y1="779.50" x2="319.75" y2="779.50" stroke="#000" stroke-width="1.6" stroke-linecap="butt"/>
<line x1="316.00" y1="822.70" x2="319.75" y2="822.70" stroke="#000" stroke-width="1.6" stroke-linecap="butt"/>
<line x1="316.00" y1="866.20" x2="319.75" y2="866.20" stroke="#000" stroke-width="1.6" stroke-linecap="butt"/>
<line x1="319.30" y1="908.90" x2="319.30" y2="912.00" stroke="#000" stroke-width="1.6" stroke-linecap="butt"/>
<line x1="333.97" y1="908.90" x2="333.97" y2="912.00" stroke="#000" stroke-width="1.6" stroke-linecap="butt"/>
<line x1="348.64" y1="908.90" x2="348.64" y2="912.00" stroke="#000" stroke-width="1.6" stroke-linecap="butt"/>
<line x1="363.31" y1="908.90" x2="363.31" y2="912.00" stroke="#000" stroke-width="1.6" stroke-linecap="butt"/>
<line x1="377.98" y1="908.90" x2="377.98" y2="912.00" stroke="#000" stroke-width="1.6" stroke-linecap="butt"/>
<line x1="407.32" y1="908.90" x2="407.32" y2="912.00" stroke="#000" stroke-width="1.6" stroke-linecap="butt"/>
<line x1="436.66" y1="908.90" x2="436.66" y2="912.00" stroke="#000" stroke-width="1.6" stroke-linecap="butt"/>
<line x1="495.34" y1="908.90" x2="495.34" y2="912.00" stroke="#000" stroke-width="1.6" stroke-linecap="butt"/>
<text transform="translate(286.61,784.16) scale(0.9050,1)" font-size="16.40" fill="#000" stroke="#000" stroke-width="0.55">100</text>
<text transform="translate(294.84,827.96) scale(0.9050,1)" font-size="16.40" fill="#000" stroke="#000" stroke-width="0.55">80</text>
<text transform="translate(294.84,871.56) scale(0.9050,1)" font-size="16.40" fill="#000" stroke="#000" stroke-width="0.55">60</text>
<text transform="translate(294.84,913.66) scale(0.9050,1)" font-size="16.40" fill="#000" stroke="#000" stroke-width="0.55">40</text>
<text transform="translate(314.68,927.06) scale(0.9050,1)" font-size="16.40" fill="#000" stroke="#000" stroke-width="0.55">0</text>
<text transform="translate(339.76,927.06) scale(0.9050,1)" font-size="16.40" fill="#000" stroke="#000" stroke-width="0.55">30</text>
<text transform="translate(369.29,927.06) scale(0.9050,1)" font-size="16.40" fill="#000" stroke="#000" stroke-width="0.55">60</text>
<text transform="translate(399.33,927.06) scale(0.9050,1)" font-size="16.40" fill="#000" stroke="#000" stroke-width="0.55">90</text>
<text transform="translate(425.28,927.06) scale(0.9050,1)" font-size="16.40" fill="#000" stroke="#000" stroke-width="0.55">120</text>
<text transform="translate(482.58,927.06) scale(0.9050,1)" font-size="16.40" fill="#000" stroke="#000" stroke-width="0.55">180</text>
<text transform="translate(381.09,945.20) scale(0.9214,1)" font-size="16.60" fill="#000" stroke="#000" stroke-width="0.55">Time (min)</text>
<line x1="333.97" y1="824.00" x2="333.97" y2="845.00" stroke="#000" stroke-width="1.8" stroke-linecap="butt"/>
<line x1="330.47" y1="824.00" x2="337.47" y2="824.00" stroke="#000" stroke-width="1.8" stroke-linecap="butt"/>
<line x1="330.47" y1="845.00" x2="337.47" y2="845.00" stroke="#000" stroke-width="1.8" stroke-linecap="butt"/>
<line x1="348.64" y1="853.00" x2="348.64" y2="867.50" stroke="#000" stroke-width="1.8" stroke-linecap="butt"/>
<line x1="345.14" y1="853.00" x2="352.14" y2="853.00" stroke="#000" stroke-width="1.8" stroke-linecap="butt"/>
<line x1="345.14" y1="867.50" x2="352.14" y2="867.50" stroke="#000" stroke-width="1.8" stroke-linecap="butt"/>
<line x1="363.31" y1="837.80" x2="363.31" y2="861.50" stroke="#000" stroke-width="1.8" stroke-linecap="butt"/>
<line x1="359.81" y1="837.80" x2="366.81" y2="837.80" stroke="#000" stroke-width="1.8" stroke-linecap="butt"/>
<line x1="359.81" y1="861.50" x2="366.81" y2="861.50" stroke="#000" stroke-width="1.8" stroke-linecap="butt"/>
<line x1="377.98" y1="849.00" x2="377.98" y2="872.50" stroke="#000" stroke-width="1.8" stroke-linecap="butt"/>
<line x1="374.48" y1="849.00" x2="381.48" y2="849.00" stroke="#000" stroke-width="1.8" stroke-linecap="butt"/>
<line x1="374.48" y1="872.50" x2="381.48" y2="872.50" stroke="#000" stroke-width="1.8" stroke-linecap="butt"/>
<line x1="407.32" y1="810.50" x2="407.32" y2="841.50" stroke="#000" stroke-width="1.8" stroke-linecap="butt"/>
<line x1="403.82" y1="810.50" x2="410.82" y2="810.50" stroke="#000" stroke-width="1.8" stroke-linecap="butt"/>
<line x1="403.82" y1="841.50" x2="410.82" y2="841.50" stroke="#000" stroke-width="1.8" stroke-linecap="butt"/>
<line x1="436.66" y1="816.50" x2="436.66" y2="833.50" stroke="#000" stroke-width="1.8" stroke-linecap="butt"/>
<line x1="433.16" y1="816.50" x2="440.16" y2="816.50" stroke="#000" stroke-width="1.8" stroke-linecap="butt"/>
<line x1="433.16" y1="833.50" x2="440.16" y2="833.50" stroke="#000" stroke-width="1.8" stroke-linecap="butt"/>
<line x1="495.34" y1="834.80" x2="495.34" y2="846.20" stroke="#000" stroke-width="1.8" stroke-linecap="butt"/>
<line x1="491.84" y1="834.80" x2="498.84" y2="834.80" stroke="#000" stroke-width="1.8" stroke-linecap="butt"/>
<line x1="491.84" y1="846.20" x2="498.84" y2="846.20" stroke="#000" stroke-width="1.8" stroke-linecap="butt"/>
<line x1="333.97" y1="812.00" x2="333.97" y2="838.00" stroke="#000" stroke-width="1.8" stroke-linecap="butt"/>
<line x1="330.47" y1="812.00" x2="337.47" y2="812.00" stroke="#000" stroke-width="1.8" stroke-linecap="butt"/>
<line x1="330.47" y1="838.00" x2="337.47" y2="838.00" stroke="#000" stroke-width="1.8" stroke-linecap="butt"/>
<line x1="348.64" y1="831.80" x2="348.64" y2="866.50" stroke="#000" stroke-width="1.8" stroke-linecap="butt"/>
<line x1="345.14" y1="831.80" x2="352.14" y2="831.80" stroke="#000" stroke-width="1.8" stroke-linecap="butt"/>
<line x1="345.14" y1="866.50" x2="352.14" y2="866.50" stroke="#000" stroke-width="1.8" stroke-linecap="butt"/>
<line x1="363.31" y1="824.80" x2="363.31" y2="866.00" stroke="#000" stroke-width="1.8" stroke-linecap="butt"/>
<line x1="359.81" y1="824.80" x2="366.81" y2="824.80" stroke="#000" stroke-width="1.8" stroke-linecap="butt"/>
<line x1="359.81" y1="866.00" x2="366.81" y2="866.00" stroke="#000" stroke-width="1.8" stroke-linecap="butt"/>
<line x1="377.98" y1="824.20" x2="377.98" y2="871.00" stroke="#000" stroke-width="1.8" stroke-linecap="butt"/>
<line x1="374.48" y1="824.20" x2="381.48" y2="824.20" stroke="#000" stroke-width="1.8" stroke-linecap="butt"/>
<line x1="374.48" y1="871.00" x2="381.48" y2="871.00" stroke="#000" stroke-width="1.8" stroke-linecap="butt"/>
<line x1="407.32" y1="806.30" x2="407.32" y2="857.30" stroke="#000" stroke-width="1.8" stroke-linecap="butt"/>
<line x1="403.82" y1="806.30" x2="410.82" y2="806.30" stroke="#000" stroke-width="1.8" stroke-linecap="butt"/>
<line x1="403.82" y1="857.30" x2="410.82" y2="857.30" stroke="#000" stroke-width="1.8" stroke-linecap="butt"/>
<line x1="436.66" y1="817.20" x2="436.66" y2="856.80" stroke="#000" stroke-width="1.8" stroke-linecap="butt"/>
<line x1="433.16" y1="817.20" x2="440.16" y2="817.20" stroke="#000" stroke-width="1.8" stroke-linecap="butt"/>
<line x1="433.16" y1="856.80" x2="440.16" y2="856.80" stroke="#000" stroke-width="1.8" stroke-linecap="butt"/>
<line x1="495.34" y1="807.00" x2="495.34" y2="843.00" stroke="#000" stroke-width="1.8" stroke-linecap="butt"/>
<line x1="491.84" y1="807.00" x2="498.84" y2="807.00" stroke="#000" stroke-width="1.8" stroke-linecap="butt"/>
<line x1="491.84" y1="843.00" x2="498.84" y2="843.00" stroke="#000" stroke-width="1.8" stroke-linecap="butt"/>
<polyline fill="none" stroke="#000" stroke-width="2.1" stroke-linejoin="round" points="319.30,779.50 333.97,834.30 348.64,860.50 363.31,850.00 377.98,860.50 407.32,825.70 436.66,825.00 495.34,840.50"/>
<polyline fill="none" stroke="#000" stroke-width="2.1" stroke-linejoin="round" points="319.30,779.50 333.97,825.20 348.64,849.60 363.31,845.40 377.98,848.00 407.32,831.50 436.66,837.00 495.34,825.00"/>
<rect x="316.70" y="776.90" width="5.20" height="5.20" fill="#fff" stroke="#000" stroke-width="1.8"/>
<rect x="331.37" y="831.70" width="5.20" height="5.20" fill="#fff" stroke="#000" stroke-width="1.8"/>
<rect x="346.04" y="857.90" width="5.20" height="5.20" fill="#fff" stroke="#000" stroke-width="1.8"/>
<rect x="360.71" y="847.40" width="5.20" height="5.20" fill="#fff" stroke="#000" stroke-width="1.8"/>
<rect x="375.38" y="857.90" width="5.20" height="5.20" fill="#fff" stroke="#000" stroke-width="1.8"/>
<rect x="404.72" y="823.10" width="5.20" height="5.20" fill="#fff" stroke="#000" stroke-width="1.8"/>
<rect x="434.06" y="822.40" width="5.20" height="5.20" fill="#fff" stroke="#000" stroke-width="1.8"/>
<rect x="492.74" y="837.90" width="5.20" height="5.20" fill="#fff" stroke="#000" stroke-width="1.8"/>
<rect x="316.70" y="776.90" width="5.20" height="5.20" fill="#c8c8c8" stroke="#000" stroke-width="1.8"/>
<rect x="331.37" y="822.60" width="5.20" height="5.20" fill="#c8c8c8" stroke="#000" stroke-width="1.8"/>
<rect x="346.04" y="847.00" width="5.20" height="5.20" fill="#c8c8c8" stroke="#000" stroke-width="1.8"/>
<rect x="360.71" y="842.80" width="5.20" height="5.20" fill="#c8c8c8" stroke="#000" stroke-width="1.8"/>
<rect x="375.38" y="845.40" width="5.20" height="5.20" fill="#c8c8c8" stroke="#000" stroke-width="1.8"/>
<rect x="404.72" y="828.90" width="5.20" height="5.20" fill="#c8c8c8" stroke="#000" stroke-width="1.8"/>
<rect x="434.06" y="834.40" width="5.20" height="5.20" fill="#c8c8c8" stroke="#000" stroke-width="1.8"/>
<rect x="492.74" y="822.40" width="5.20" height="5.20" fill="#c8c8c8" stroke="#000" stroke-width="1.8"/>
</svg>
</body></html>
